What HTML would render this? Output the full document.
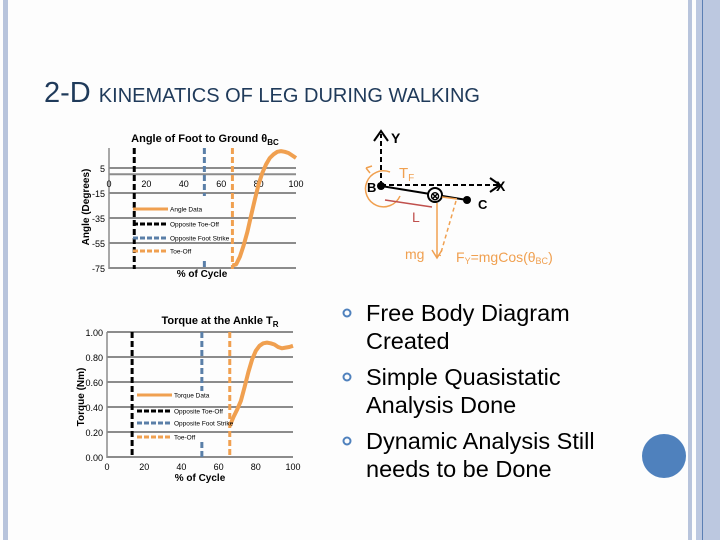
<!DOCTYPE html>
<html><head><meta charset="utf-8"><style>
body{margin:0;background:#fff}
svg{display:block}
text{font-family:"Liberation Sans",sans-serif}
</style></head><body>
<svg id="s" width="720" height="540" viewBox="0 0 720 540">
<rect x="0" y="0" width="720" height="540" fill="#fdfdfd"/>
<rect x="3" y="0" width="5" height="540" fill="#b8c4dc"/>
<rect x="688" y="0" width="4" height="540" fill="#b8c4dc"/>
<rect x="696" y="0" width="24" height="540" fill="#bcc8e0"/>
<rect x="702" y="0" width="1" height="540" fill="#5b7fb4"/>
<circle cx="664" cy="456" r="22" fill="#4f81bd"/>
<text x="44" y="102" fill="#1f3a5a" font-size="29">2-D <tspan font-size="20">KINEMATICS OF LEG DURING WALKING</tspan></text>

<g id="c1"></g>
<g id="c2"></g>

<g font-family="Liberation Sans">
<line x1="381" y1="186" x2="381" y2="134" stroke="#000" stroke-width="2" stroke-dasharray="5,3"/>
<polyline points="374,141 381,131 388,141" fill="none" stroke="#000" stroke-width="2"/>
<text x="391" y="143" font-size="14" font-weight="bold">Y</text>
<line x1="381" y1="185" x2="500" y2="185" stroke="#000" stroke-width="2" stroke-dasharray="5,3"/>
<polyline points="490,178 500,185 490,192" fill="none" stroke="#000" stroke-width="2"/>
<text x="496" y="191" font-size="14" font-weight="bold">X</text>
<path d="M390,172 A18,18 0 1,0 400,196" fill="none" stroke="#f0a050" stroke-width="1.5"/>
<path d="M370,173 L366,168 M366,168 L372,166" fill="none" stroke="#f0a050" stroke-width="1.5"/>
<text x="399" y="178" font-size="15" fill="#f0a050">T<tspan font-size="10" dy="3">F</tspan></text>
<line x1="381" y1="186" x2="467" y2="200" stroke="#000" stroke-width="2"/>
<circle cx="381" cy="186" r="4" fill="#000"/>
<text x="367" y="192" font-size="13" font-weight="bold">B</text>
<circle cx="467" cy="200" r="4" fill="#000"/>
<text x="478" y="209" font-size="13" font-weight="bold">C</text>
<circle cx="435" cy="195" r="7" fill="#fff" stroke="#000" stroke-width="2"/>
<text x="430" y="200" font-size="12" font-weight="bold">⊗</text>
<line x1="385" y1="200" x2="432" y2="207" stroke="#c0504d" stroke-width="1.5"/>
<text x="412" y="222" font-size="14" fill="#c0504d">L</text>
<line x1="437" y1="203" x2="437" y2="257" stroke="#f0a050" stroke-width="1.5"/>
<polyline points="432,250 437,258 442,250" fill="none" stroke="#f0a050" stroke-width="1.5"/>
<line x1="442" y1="197" x2="457" y2="199" stroke="#f0a050" stroke-width="1.5"/>
<line x1="456" y1="201" x2="440" y2="256" stroke="#f0a050" stroke-width="1.5" stroke-dasharray="4,3"/>
<text x="405" y="259" font-size="14" fill="#f0a050">mg</text>
<text x="456" y="262" font-size="14" fill="#f0a050">F<tspan font-size="9" dy="2">Y</tspan><tspan dy="-2">=mgCos(θ</tspan><tspan font-size="9" dy="2">BC</tspan><tspan dy="-2">)</tspan></text>
</g>

<g font-size="23.5" fill="#000">
<circle cx="347" cy="313" r="3.5" fill="none" stroke="#4f81bd" stroke-width="2"/>
<text x="366" y="321">Free Body Diagram</text><text x="366" y="349">Created</text>
<circle cx="347" cy="377" r="3.5" fill="none" stroke="#4f81bd" stroke-width="2"/>
<text x="366" y="385">Simple Quasistatic</text><text x="366" y="413">Analysis Done</text>
<circle cx="347" cy="441" r="3.5" fill="none" stroke="#4f81bd" stroke-width="2"/>
<text x="366" y="449">Dynamic Analysis Still</text><text x="366" y="477">needs to be Done</text>
</g>
</svg>
<script>
const xTicks=[0,20,40,60,80,100];
const angleTicks=[5,-15,-35,-55,-75];
const angleX=[66,68,70,72,74,76,78,80,82,84,86,88,90,92,94,96,98,100];
const angleY=[-73,-72,-66,-57,-46,-33,-20,-8,1,8,13,16,18,18.5,18,17,15,13];
const torqueTicks=[1.00,0.80,0.60,0.40,0.20,0.00];
const torqueX=[66,68,70,72,74,76,78,80,82,84,86,88,90,92,94,96,98,100];
const torqueY=[0.25,0.32,0.38,0.45,0.56,0.68,0.78,0.85,0.89,0.91,0.915,0.91,0.9,0.88,0.87,0.875,0.88,0.89];
const eventX=[13.5,51,66];
const NS='http://www.w3.org/2000/svg';
function mk(p,t,a,txt){const e=document.createElementNS(NS,t);for(const k in a)e.setAttribute(k,a[k]);if(txt!==undefined)e.textContent=txt;p.appendChild(e);return e;}
function chart(g,o){
 const sx=v=>o.x0+(v/100)*(o.x1-o.x0);
 const sy=v=>o.yA+(v-o.vA)*(o.yB-o.yA)/(o.vB-o.vA);
 o.ticks.forEach(t=>{
  const l=mk(g,'line',{x1:o.x0,x2:o.x1,y1:sy(t),y2:sy(t),stroke:'#8c8c8c','stroke-width':2});
  
  
  const tx=mk(g,'text',{x:o.x0-4,y:sy(t)+4,'font-size':9,'text-anchor':'end'},o.fmt(t));
  
  
 });
 mk(g,'line',{x1:o.x0,x2:o.x0,y1:o.top,y2:o.bot,stroke:'#8c8c8c','stroke-width':1.5});
 if(o.zero!==undefined)mk(g,'line',{x1:o.x0,x2:o.x1,y1:sy(o.zero),y2:sy(o.zero),stroke:'#8c8c8c','stroke-width':2});
 xTicks.forEach(t=>{
  const tx=mk(g,'text',{x:sx(t),y:o.xl,'font-size':9,'text-anchor':'middle'},t);
  
  
 });
 const cols=['#000','#5a7fa8','#f0a050'];
 eventX.forEach((v,i)=>{
  const segs=i==1?o.blueSegs:[[o.top,o.bot]];
  segs.forEach(s=>{
   const l=mk(g,'line',{x1:sx(v),x2:sx(v),y1:s[0],y2:s[1],stroke:cols[i],'stroke-width':3,'stroke-dasharray':'6,3'});
   
   
  });
 });
 const d=o.xs.map((x,i)=>(i?'L':'M')+sx(x).toFixed(1)+','+sy(o.ys[i]).toFixed(1)).join(' ');
 const p=mk(g,'path',{d:d,fill:'none',stroke:'#f0a050','stroke-width':4,'stroke-linejoin':'round'});
 
 
 const lc=['#f0a050','#000','#5a7fa8','#f0a050'];
 o.leg.forEach((n,i)=>{
  const y=o.legY[i];
  mk(g,'line',{x1:o.legX,x2:o.legX+35,y1:y,y2:y,stroke:lc[i],'stroke-width':3,'stroke-dasharray':i?'5,2':''});
  const t=mk(g,'text',{x:o.legX+37,y:y+2.5,'font-size':6.5},n);
  
  
 });
 const ti=mk(g,'text',{x:o.tx,y:o.ty,'font-size':11,'font-weight':'bold','text-anchor':'middle'});
 ti.innerHTML=o.title;
 
 
 const xt=mk(g,'text',{x:o.xtx,y:o.xty,'font-size':10,'font-weight':'bold','text-anchor':'middle'},'% of Cycle');
 
 
 const yt=mk(g,'text',{x:0,y:0,'font-size':10,'font-weight':'bold','text-anchor':'middle',transform:`translate(${o.ytx},${o.yty}) rotate(-90)`},o.ytitle);
 
 
}
chart(document.getElementById('c1'),{x0:109,x1:296,yA:168,vA:5,yB:268,vB:-75,ticks:angleTicks,fmt:v=>v,zero:0,xl:187,top:148,bot:269,
 xs:angleX,ys:angleY,blueSegs:[[148,196],[261,269]],leg:['Angle Data','Opposite Toe-Off','Opposite Foot Strike','Toe-Off'],legY:[209,224,238,251],legX:133,
 title:'Angle of Foot to Ground θ<tspan font-size="8" dy="3">BC</tspan>',tx:205,ty:142,xtx:202,xty:277,ytitle:'Angle (Degrees)',ytx:89,yty:207});
chart(document.getElementById('c2'),{x0:107,x1:293,yA:332,vA:1,yB:457,vB:0,ticks:torqueTicks,fmt:v=>v.toFixed(2),xl:470,top:332,bot:458,
 xs:torqueX,ys:torqueY,blueSegs:[[332,391],[442,458]],leg:['Torque Data','Opposite Toe-Off','Opposite Foot Strike','Toe-Off'],legY:[395,411,423,437],legX:137,
 title:'Torque at the Ankle T<tspan font-size="8" dy="3">R</tspan>',tx:220,ty:324,xtx:200,xty:481,ytitle:'Torque (Nm)',ytx:84,yty:397});
</script>
</body></html>
